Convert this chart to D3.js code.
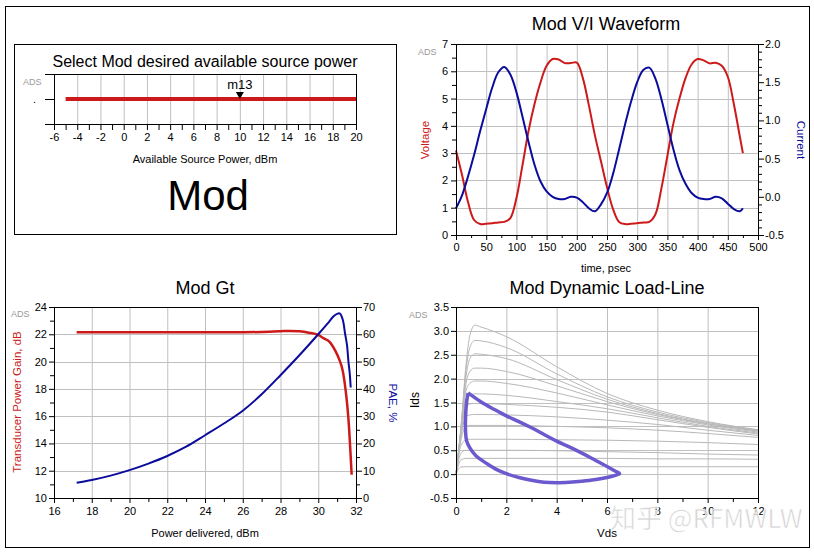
<!DOCTYPE html>
<html>
<head>
<meta charset="utf-8">
<script src="https://cdn.jsdelivr.net/npm/d3@7"></script>
<style>
body { margin: 0; background: #fff; }
svg { display: block; font-family: "Liberation Sans", Arial, sans-serif; }
.axis line { stroke: #000; }
.axis text { font-size: 11px; fill: #000; font-family: "Liberation Sans", Arial, sans-serif; }
</style>
</head>
<body>
<svg id="chart" width="814" height="553"></svg>
<script>
// ---- data ----
var sliderPower = [-5, 20];
var markerPower = 10;
var markerName = "m13";

var timePs = [0,10,20,30,40,50,60,70,80,90,100,110,120,130,140,150,160,170,180,190,200,210,220,230,240,
              250,260,270,280,290,300,310,320,330,340,350,360,370,380,390,400,410,420,430,440,450,460,470,475];
var voltage = [3.1,2.2,1.2,0.55,0.4,0.41,0.43,0.46,0.48,0.62,1.35,2.55,3.8,4.8,5.6,6.2,6.45,6.43,6.3,6.3,6.32,5.75,4.75,3.65,2.7,
               1.75,0.95,0.48,0.4,0.41,0.43,0.46,0.48,0.75,1.7,2.9,4.1,5.0,5.75,6.25,6.45,6.4,6.29,6.31,6.2,5.8,4.8,3.6,3.0];
var current = [-0.15,0.02,0.27,0.55,0.86,1.15,1.43,1.63,1.70,1.60,1.37,1.05,0.72,0.42,0.2,0.07,0.0,-0.03,-0.03,0.0,-0.01,-0.07,-0.15,-0.19,-0.1,
               0.05,0.3,0.62,0.95,1.25,1.5,1.66,1.69,1.55,1.28,0.95,0.62,0.35,0.17,0.05,-0.01,-0.03,-0.03,0.0,-0.02,-0.09,-0.16,-0.19,-0.15];

var gainPout = [17.2,18,19,20,21,22,23,24,25,26,27,28,28.5,29,29.5,30,30.3,30.6,30.9,31.1,31.3,31.45,31.55,31.63,31.7,31.77];
var gainDb   = [22.15,22.15,22.15,22.15,22.15,22.15,22.15,22.15,22.15,22.15,22.17,22.22,22.25,22.22,22.12,21.95,21.7,21.45,20.8,20.2,19.3,17.9,16.6,15.2,13.5,11.7];
var paePout = [17.2,18,19,20,21,22,23,24,25,26,27,28,29,30,30.5,30.8,31.0,31.15,31.3,31.42,31.52,31.6,31.67,31.72];
var paePct  = [5.6,6.6,8.2,10.2,12.6,15.4,18.8,23.0,27.3,32.0,38.0,45.0,52.3,60.0,64.0,66.5,67.5,67.6,65.3,60.3,56.2,50.0,45.5,40.5];

var ivVds = [0,0.2,0.4,0.55,0.75,1,2,4,6,8,10,12];
var ivCurves = [
  [0,1.0,2.3,2.9,3.12,3.08,2.88,2.25,1.69,1.34,1.1,0.93],
  [0,1.0,2.2,2.65,2.8,2.79,2.65,2.1,1.62,1.3,1.08,0.92],
  [0,0.95,2.05,2.42,2.52,2.51,2.42,1.98,1.57,1.27,1.06,0.91],
  [0,0.95,1.9,2.15,2.22,2.22,2.15,1.85,1.52,1.25,1.05,0.9],
  [0,0.9,1.75,1.9,1.95,1.95,1.9,1.7,1.45,1.22,1.03,0.88],
  [0,0.9,1.58,1.66,1.68,1.68,1.65,1.52,1.37,1.18,1.0,0.86],
  [0,0.85,1.42,1.47,1.48,1.48,1.46,1.4,1.3,1.14,0.98,0.84],
  [0,0.8,1.21,1.24,1.25,1.25,1.24,1.2,1.13,1.04,0.92,0.81],
  [0,0.72,1.0,1.02,1.02,1.02,1.02,1.0,0.97,0.92,0.85,0.77],
  [0,0.6,0.72,0.73,0.73,0.73,0.73,0.72,0.71,0.69,0.66,0.62],
  [0,0.44,0.5,0.5,0.5,0.5,0.5,0.49,0.47,0.45,0.42,0.4],
  [0,0.3,0.33,0.33,0.33,0.33,0.33,0.33,0.33,0.32,0.32,0.31],
  [0,0.15,0.155,0.155,0.155,0.155,0.155,0.155,0.155,0.155,0.155,0.155]
];
var loopVds = [0.48,0.42,0.38,0.38,0.42,0.55,0.8,1.2,1.6,2.0,2.5,3.0,3.5,4.0,4.5,5.0,5.5,6.0,6.3,6.5,
               6.3,6.0,5.5,5.0,4.5,4.0,3.5,3.0,2.5,2.0,1.5,1.0,0.48];
var loopIds = [1.70,1.5,1.2,0.9,0.7,0.55,0.38,0.23,0.1,0.01,-0.07,-0.13,-0.17,-0.18,-0.17,-0.15,-0.12,-0.07,-0.03,0.01,
               0.07,0.16,0.3,0.44,0.57,0.69,0.83,0.97,1.1,1.22,1.36,1.51,1.70];

// ---- style ----
var RED = "#cc1a1a", BLUE = "#0b0b9c", PURPLE = "#6a5acd", GRID = "#c0c0c0", IVGRAY = "#b8b8b8";

var svg = d3.select("#chart");

svg.append("rect").attr("x", 5.5).attr("y", 6.5).attr("width", 804).attr("height", 541)
  .attr("fill", "none").attr("stroke", "#000");

function num(d) { return String(d); }
function fix1(d) { return d.toFixed(1); }
function range(a, b, s) { return d3.range(a, b + s / 2, s); }

function makePanel(left, top, w, h) {
  var g = svg.append("g").attr("transform", "translate(" + left + "," + top + ")");
  g.w = w; g.h = h;
  return g;
}

function grid(g, x, y, xv, yv) {
  g.append("g").selectAll("line").data(xv).join("line")
    .attr("x1", function(d) { return x(d) + 0.5; }).attr("x2", function(d) { return x(d) + 0.5; })
    .attr("y1", 0).attr("y2", g.h).attr("stroke", GRID);
  g.append("g").selectAll("line").data(yv).join("line")
    .attr("y1", function(d) { return Math.round(y(d)) + 0.5; }).attr("y2", function(d) { return Math.round(y(d)) + 0.5; })
    .attr("x1", 0).attr("x2", g.w).attr("stroke", GRID);
}

function axis(g, gen, tr) {
  var a = g.append("g").attr("class", "axis").call(gen);
  if (tr) a.attr("transform", tr);
  a.select(".domain").remove();
  return a;
}

function box(g) {
  g.append("rect").attr("x", 0.5).attr("y", 0.5).attr("width", g.w).attr("height", g.h)
    .attr("fill", "none").attr("stroke", "#000");
}

function label(x, y, txt, opt) {
  opt = opt || {};
  var t = svg.append("text").attr("x", x).attr("y", y).text(txt)
    .attr("text-anchor", opt.anchor || "middle")
    .attr("font-size", opt.size || 11)
    .attr("fill", opt.color || "#000");
  if (opt.rotate) t.attr("transform", "rotate(" + opt.rotate + "," + x + "," + y + ")");
  if (opt.mid) t.attr("dominant-baseline", "central");
  return t;
}

var smooth = d3.curveCatmullRom.alpha(0.5);

// ---- panel 1: source power slider ----
svg.append("rect").attr("x", 14.5).attr("y", 44.5).attr("width", 382).attr("height", 190)
  .attr("fill", "none").attr("stroke", "#000");
label(205, 67, "Select Mod desired available source power", {size: 16});
label(23, 85, "ADS", {size: 9, color: "#999", anchor: "start"});

var p1 = makePanel(54, 74, 302, 50);
var x1 = d3.scaleLinear().domain([-6, 20]).range([0, 302]);
var y1 = d3.scaleLinear().domain([-1, 1]).range([50, 0]);
grid(p1, x1, y1, range(-4, 18, 2), []);
p1.append("line").attr("x1", x1(sliderPower[0])).attr("x2", x1(sliderPower[1]))
  .attr("y1", y1(0)).attr("y2", y1(0)).attr("stroke", RED).attr("stroke-width", 4);
var mx = x1(markerPower), my = y1(0);
p1.append("path").attr("d", "M" + (mx - 4) + "," + (my - 7) + "L" + (mx + 4) + "," + (my - 7) + "L" + mx + "," + my + "Z")
  .attr("fill", "#000");
p1.append("text").attr("x", mx).attr("y", my - 10).attr("text-anchor", "middle").attr("font-size", 13).text(markerName);
box(p1);
axis(p1, d3.axisBottom(x1).tickValues(range(-6, 20, 2)).tickFormat(num).tickSize(6).tickPadding(3), "translate(0,50)");
axis(p1, d3.axisBottom(x1).tickValues(range(-5, 19, 2)).tickFormat("").tickSize(6), "translate(0,50)");
axis(p1, d3.axisLeft(y1).tickValues([-1, 0, 1]).tickFormat(function(d) { return d === 0 ? "." : ""; }).tickSize(9).tickPadding(9));
label(205, 163, "Available Source Power, dBm", {size: 11});
label(208, 210, "Mod", {size: 42});

// ---- panel 2: V/I waveform ----
label(606, 30, "Mod V/I Waveform", {size: 18});
label(418, 55, "ADS", {size: 9, color: "#999", anchor: "start"});
var p2 = makePanel(456, 44, 302, 191);
var x2 = d3.scaleLinear().domain([0, 500]).range([0, 302]);
var yV = d3.scaleLinear().domain([0, 7]).range([191, 0]);
var yI = d3.scaleLinear().domain([-0.5, 2]).range([191, 0]);
grid(p2, x2, yV, range(50, 450, 50), range(1, 6, 1));
p2.append("path").datum(timePs)
  .attr("d", d3.line().x(function(d) { return x2(d); }).y(function(d, i) { return yV(voltage[i]); }).curve(smooth))
  .attr("fill", "none").attr("stroke", RED).attr("stroke-width", 2);
p2.append("path").datum(timePs)
  .attr("d", d3.line().x(function(d) { return x2(d); }).y(function(d, i) { return yI(current[i]); }).curve(smooth))
  .attr("fill", "none").attr("stroke", BLUE).attr("stroke-width", 2);
box(p2);
axis(p2, d3.axisBottom(x2).tickValues(range(0, 500, 50)).tickFormat(num).tickSize(5).tickPadding(3), "translate(0,191)");
axis(p2, d3.axisBottom(x2).tickValues(range(25, 475, 50)).tickFormat("").tickSize(3), "translate(0,191)");
axis(p2, d3.axisLeft(yV).tickValues(range(0, 7, 1)).tickFormat(num).tickSize(5).tickPadding(3));
axis(p2, d3.axisLeft(yV).tickValues(range(0.5, 6.5, 1)).tickFormat("").tickSize(4));
axis(p2, d3.axisRight(yI).tickValues(range(-0.5, 2, 0.5)).tickFormat(fix1).tickSize(6).tickPadding(1), "translate(302,0)");
axis(p2, d3.axisRight(yI).tickValues(range(-0.4, 1.9, 0.1).filter(function(d) { return Math.abs(d * 2 - Math.round(d * 2)) > 0.01; })).tickFormat("").tickSize(4), "translate(302,0)");
label(606, 272, "time, psec", {size: 11});
label(425, 140, "Voltage", {size: 11.5, color: RED, rotate: -90, mid: true});
label(801, 140, "Current", {size: 11.5, color: BLUE, rotate: 90, mid: true});

// ---- panel 3: Gt / PAE ----
label(205, 294, "Mod Gt", {size: 18});
label(11, 317, "ADS", {size: 9, color: "#999", anchor: "start"});
var p3 = makePanel(54, 307, 302, 191);
var x3 = d3.scaleLinear().domain([16, 32]).range([0, 302]);
var yG = d3.scaleLinear().domain([10, 24]).range([191, 0]);
var yP = d3.scaleLinear().domain([0, 70]).range([191, 0]);
grid(p3, x3, yG, range(18, 30, 2), range(12, 22, 2));
p3.append("path").datum(gainPout)
  .attr("d", d3.line().x(function(d) { return x3(d); }).y(function(d, i) { return yG(gainDb[i]); }).curve(d3.curveMonotoneX))
  .attr("fill", "none").attr("stroke", RED).attr("stroke-width", 2.5);
p3.append("path").datum(paePout)
  .attr("d", d3.line().x(function(d) { return x3(d); }).y(function(d, i) { return yP(paePct[i]); }).curve(smooth))
  .attr("fill", "none").attr("stroke", BLUE).attr("stroke-width", 2);
box(p3);
axis(p3, d3.axisBottom(x3).tickValues(range(16, 32, 2)).tickFormat(num).tickSize(5).tickPadding(4), "translate(0,191)");
axis(p3, d3.axisBottom(x3).tickValues(range(17, 31, 2)).tickFormat("").tickSize(4), "translate(0,191)");
axis(p3, d3.axisLeft(yG).tickValues(range(10, 24, 2)).tickFormat(num).tickSize(5).tickPadding(2));
axis(p3, d3.axisLeft(yG).tickValues(range(11, 23, 2)).tickFormat("").tickSize(4));
axis(p3, d3.axisRight(yP).tickValues(range(0, 70, 10)).tickFormat(num).tickSize(6).tickPadding(1), "translate(302,0)");
axis(p3, d3.axisRight(yP).tickValues(range(5, 65, 10)).tickFormat("").tickSize(4), "translate(302,0)");
label(205, 537, "Power delivered, dBm", {size: 11});
label(17, 402, "Transducer Power Gain, dB", {size: 11.5, color: RED, rotate: -90, mid: true});
label(393, 403, "PAE, %", {size: 11.5, color: BLUE, rotate: 90, mid: true});

// ---- panel 4: dynamic load line ----
label(607, 294, "Mod Dynamic Load-Line", {size: 18});
label(409, 318, "ADS", {size: 9, color: "#999", anchor: "start"});
var p4 = makePanel(456, 307, 302, 191);
var x4 = d3.scaleLinear().domain([0, 12]).range([0, 302]);
var y4 = d3.scaleLinear().domain([-0.5, 3.5]).range([191, 0]);
grid(p4, x4, y4, range(2, 10, 2), range(0, 3, 0.5));
var ivLine = d3.line().x(function(d) { return x4(d); }).curve(d3.curveMonotoneX);
p4.append("g").selectAll("path").data(ivCurves).join("path")
  .attr("d", function(c) { return ivLine.y(function(d, i) { return y4(c[i]); })(ivVds); })
  .attr("fill", "none").attr("stroke", IVGRAY).attr("stroke-width", 1);
p4.append("path").datum(loopVds)
  .attr("d", d3.line().x(function(d) { return x4(d); }).y(function(d, i) { return y4(loopIds[i]); }).curve(smooth))
  .attr("fill", "none").attr("stroke", PURPLE).attr("stroke-width", 3.5).attr("stroke-linejoin", "round");
box(p4);
axis(p4, d3.axisBottom(x4).tickValues(range(0, 12, 2)).tickFormat(num).tickSize(5).tickPadding(4), "translate(0,191)");
axis(p4, d3.axisBottom(x4).tickValues(range(1, 11, 2)).tickFormat("").tickSize(4), "translate(0,191)");
axis(p4, d3.axisLeft(y4).tickValues(range(-0.5, 3.5, 0.5)).tickFormat(fix1).tickSize(5).tickPadding(2));
label(607, 537, "Vds", {size: 11.5});
label(415, 400, "Ids", {size: 12, rotate: -90, mid: true});

// watermark
svg.append("text").attr("x", 610).attr("y", 528).text("知乎 @RFMWLW")
  .attr("font-family", "'Noto Sans CJK SC', 'Liberation Sans', sans-serif")
  .attr("font-size", 26).attr("fill", "#cfcfcf").attr("fill-opacity", 0.9)
  .attr("stroke", "#fff").attr("stroke-width", 0.6);
</script>
</body>
</html>
